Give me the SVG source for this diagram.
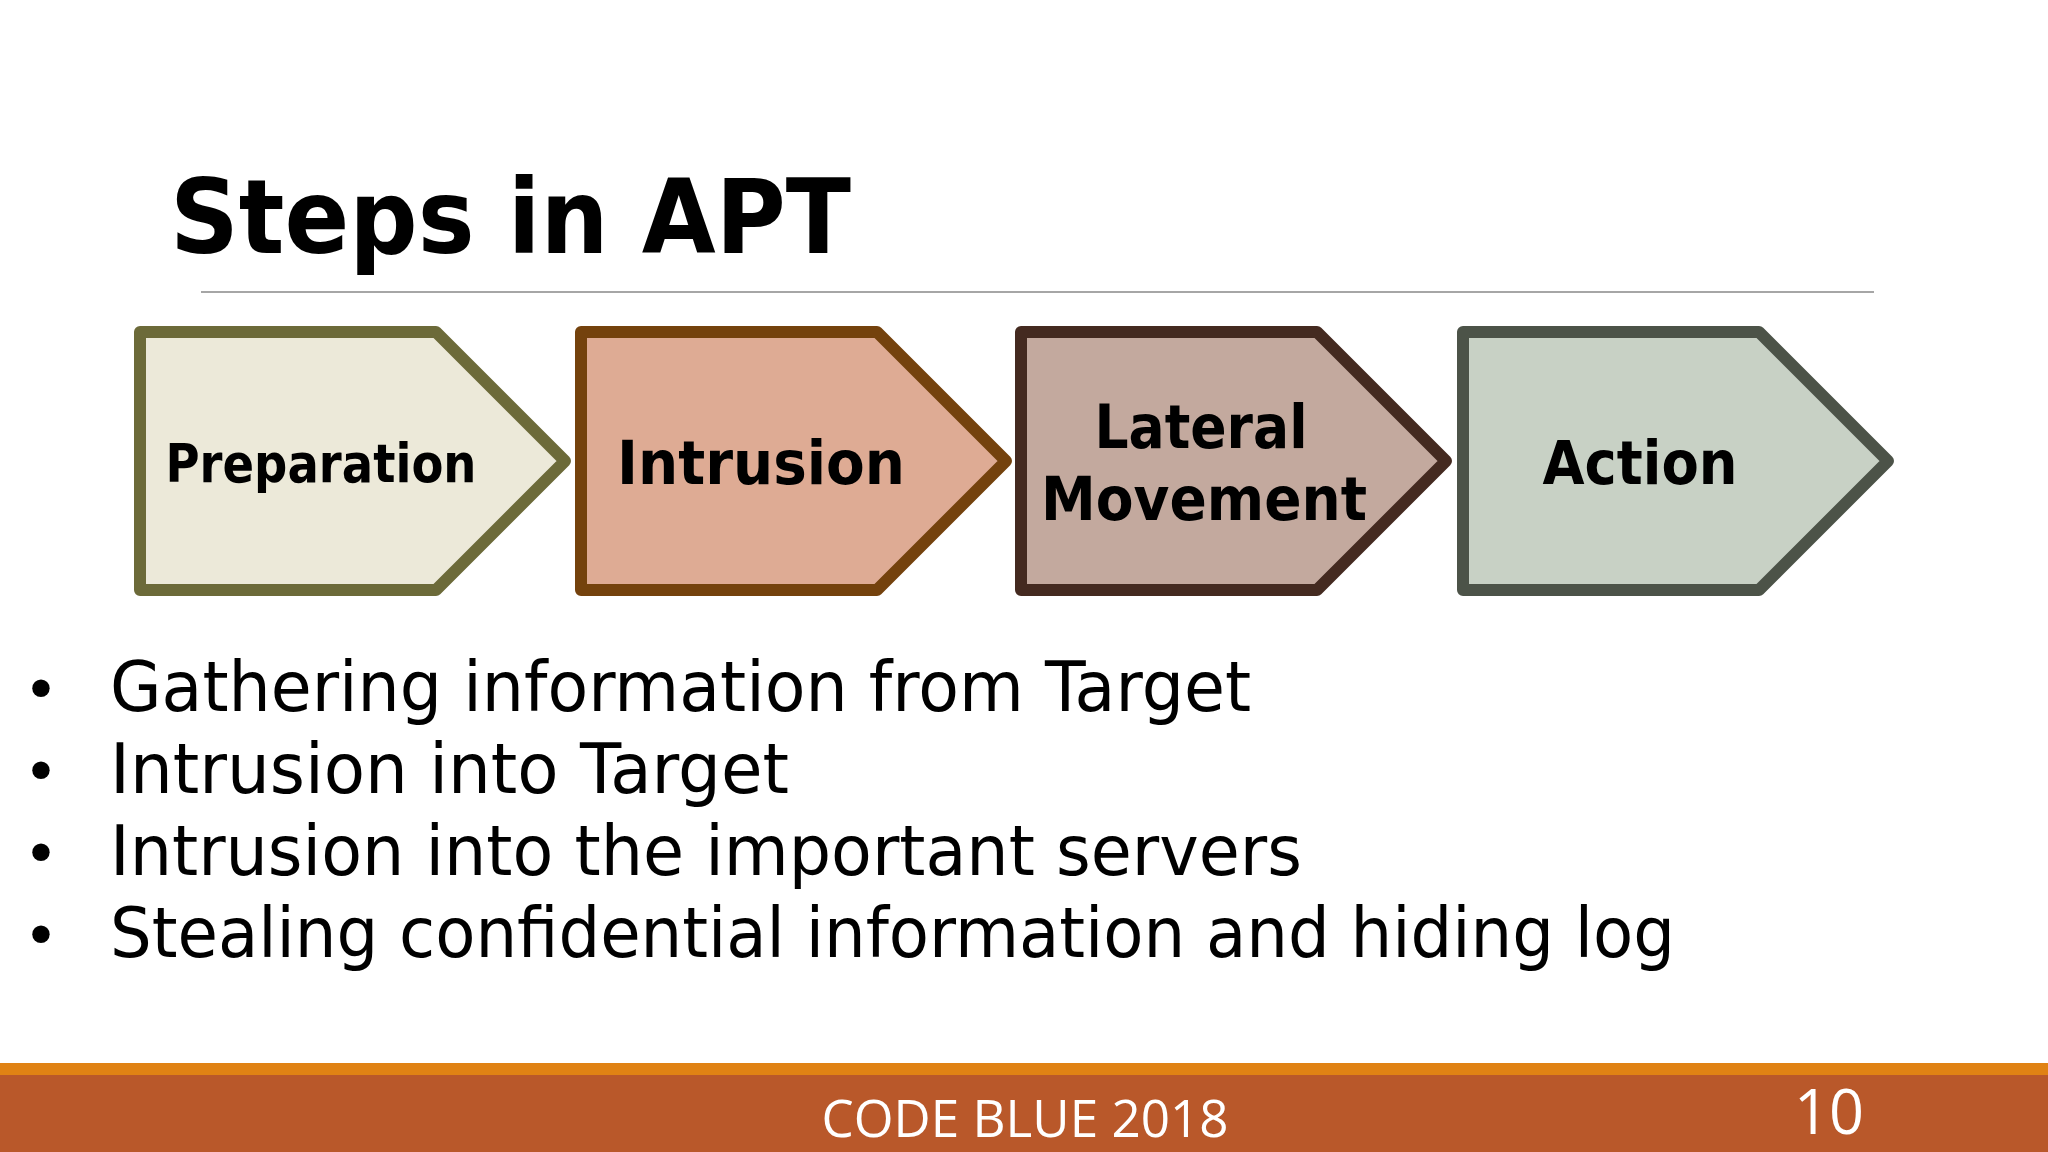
<svg xmlns="http://www.w3.org/2000/svg" width="2048" height="1152" viewBox="0 0 2048 1152">
<style>
.title{font-family:"DejaVu Sans",Verdana,sans-serif;font-weight:bold;font-size:104px;fill:#000}
.lbl{font-family:"DejaVu Sans",Verdana,sans-serif;font-weight:bold;font-size:60px;fill:#000;text-anchor:middle}
.bul{font-family:"DejaVu Sans",Verdana,sans-serif;font-size:69px;fill:#000}
.dot{font-family:"DejaVu Sans",sans-serif;font-size:60px;fill:#000;text-anchor:middle}
.foot{font-family:"Open Sans","Liberation Sans",sans-serif;fill:#fff}
.chev{stroke-width:12;stroke-linejoin:round}
</style>
<rect width="2048" height="1152" fill="#ffffff"/>
<text class="title" x="170" y="253" textLength="681" lengthAdjust="spacingAndGlyphs">Steps in APT</text>
<line x1="201" y1="292" x2="1874" y2="292" stroke="#a6a6a6" stroke-width="2"/>
<g id="prep">
<path class="chev" d="M140,332 H436 L565,461 L436,590 H140 Z" fill="#ece9d9" stroke="#6c6a39"/>
<text class="lbl" x="321" y="482" style="font-size:54px" textLength="311" lengthAdjust="spacingAndGlyphs">Preparation</text>
</g>
<g id="intrusion">
<path class="chev" d="M581,332 H877 L1006,461 L877,590 H581 Z" fill="#deab94" stroke="#74420d"/>
<text class="lbl" x="761" y="484" textLength="288" lengthAdjust="spacingAndGlyphs">Intrusion</text>
</g>
<g id="lateral">
<path class="chev" d="M1021,332 H1317 L1446,461 L1317,590 H1021 Z" fill="#c3a99e" stroke="#442a20"/>
<text class="lbl" x="1201" y="448" textLength="213" lengthAdjust="spacingAndGlyphs">Lateral</text>
<text class="lbl" x="1204" y="520" textLength="326" lengthAdjust="spacingAndGlyphs">Movement</text>
</g>
<g id="action">
<path class="chev" d="M1463,332 H1759 L1888,461 L1759,590 H1463 Z" fill="#c8d1c5" stroke="#4c5348"/>
<text class="lbl" x="1640" y="484" textLength="195" lengthAdjust="spacingAndGlyphs">Action</text>
</g>
<g id="connectors"/>
<g id="bullets">
<text class="dot" x="41" y="711">•</text>
<text class="dot" x="41" y="793">•</text>
<text class="dot" x="41" y="875">•</text>
<text class="dot" x="41" y="957">•</text>
<text class="bul" x="110" y="711" textLength="1141" lengthAdjust="spacingAndGlyphs">Gathering information from Target</text>
<text class="bul" x="110" y="793" textLength="679" lengthAdjust="spacingAndGlyphs">Intrusion into Target</text>
<text class="bul" x="110" y="875" textLength="1192" lengthAdjust="spacingAndGlyphs">Intrusion into the important servers</text>
<text class="bul" x="110" y="957" textLength="1565" lengthAdjust="spacingAndGlyphs">Stealing confidential information and hiding log</text>
</g>
<g id="footer">
<rect x="0" y="1063" width="2048" height="12" fill="#e08214"/>
<rect x="0" y="1075" width="2048" height="77" fill="#b9582a"/>
<text class="foot" x="1025" y="1137" text-anchor="middle" style="font-size:52px" textLength="407" lengthAdjust="spacingAndGlyphs">CODE BLUE 2018</text>
<text class="foot" x="1829" y="1134" text-anchor="middle" style="font-size:62px" textLength="70" lengthAdjust="spacingAndGlyphs">10</text>
</g>
</svg>
